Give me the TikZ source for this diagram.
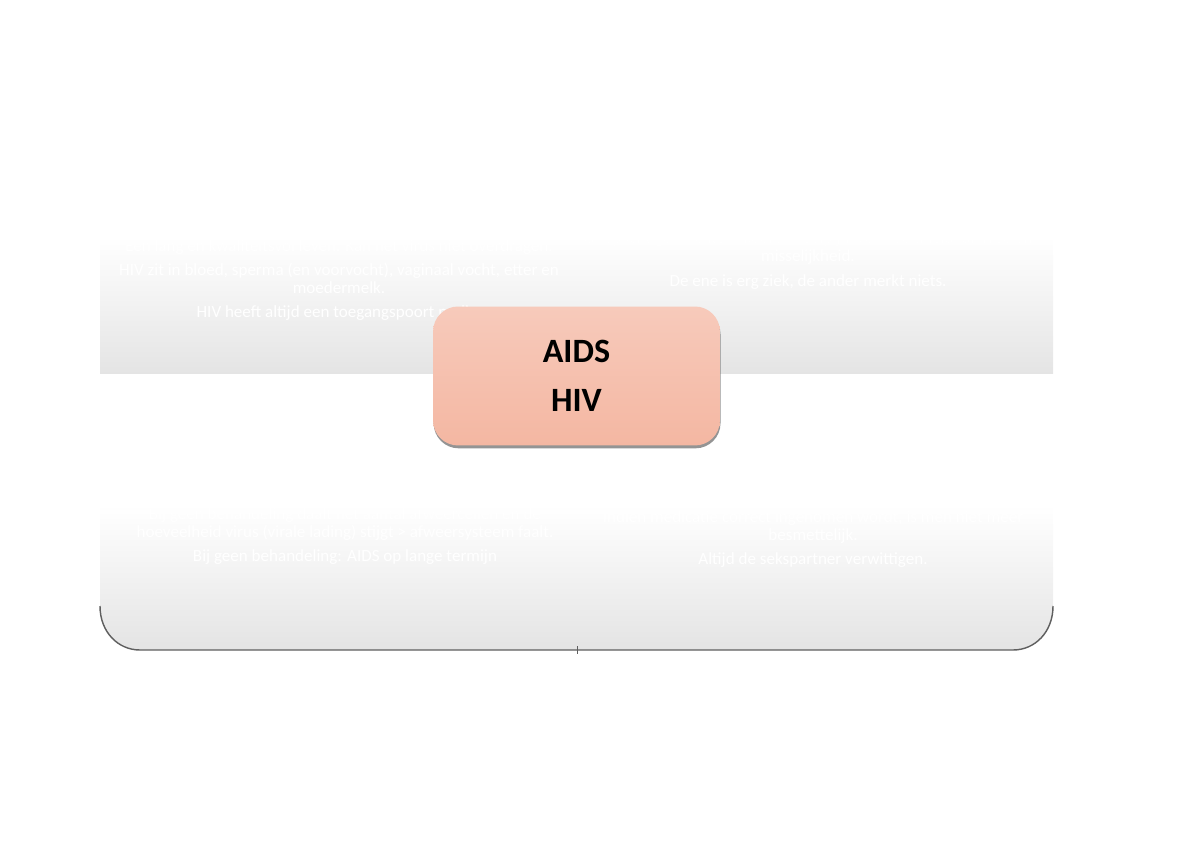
\documentclass[tikz,border=0pt]{standalone}
\usepackage{fontspec}
\setmainfont{Carlito}
\usetikzlibrary{positioning,shadows}
\definecolor{panelgrey}{RGB}{228,228,228}
\definecolor{hivtop}{RGB}{247,202,187}
\definecolor{hivbottom}{RGB}{244,183,162}
\definecolor{edgegrey}{RGB}{95,95,95}
\tikzset{
  panel/.style={top color=white, bottom color=panelgrey, draw=none},
  paneltext/.style={text=white, align=center, anchor=north, inner sep=1pt,
    font=\fontsize{12}{12.8}\selectfont},
  hivbox/.style={rounded corners=0.62cm, top color=hivtop, bottom color=hivbottom,
    minimum width=7.1cm, minimum height=3.44cm, align=center,
    font=\fontsize{24}{34.5}\selectfont\bfseries,
    drop shadow={shadow xshift=0.4pt, shadow yshift=-2pt, fill=black!60, opacity=.7}}
}
\begin{document}
\begin{tikzpicture}[x=0.02475cm, y=-0.02475cm]
  \useasboundingbox (0,0) rectangle (1200,848);

  % four panels
  \shade[panel] (100,237) rectangle (577,374);
  \shade[panel] (577,237) rectangle (1053,374);
  \shade[panel] (100,505) -- (577,505) -- (577,650) -- (140,650)
    .. controls (118,650) and (100,632) .. (100,610) -- cycle;
  \shade[panel] (577,505) -- (1053,505) -- (1053,610)
    .. controls (1053,632) and (1035,650) .. (1013,650) -- (577,650) -- cycle;
  \draw[edgegrey, line width=1pt] (100,606) .. controls (100,632) and (118,650) .. (140,650)
    -- (1013,650) .. controls (1035,650) and (1053,632) .. (1053,606);
  \draw[edgegrey, line width=0.6pt] (577,646) -- (577,654);

  % texts
  \node[paneltext] (spread) at (339,238) {Een lang en kwaliteitsvol leven. Kan het virus niet overdragen.\\[4pt]
    HIV zit in bloed, sperma (en voorvocht), vaginaal vocht, etter en\\ moedermelk.\\[4pt]
    HIV heeft altijd een toegangspoort nodig.};
  \node[paneltext] (signs) at (808,230) {Griepachtige klachten: koorts, keelpijn, vermoeidheid, diarree en\\ misselijkheid.\\[5pt]
    De ene is erg ziek, de ander merkt niets.};
  \node[paneltext] (course) at (345,506) {Bij geen behandeling daalt het aantal afweercellen en de\\
    hoeveelheid virus (virale lading) stijgt > afweersysteem faalt.\\[4pt]
    Bij geen behandeling: AIDS op lange termijn};
  \node[paneltext] (care) at (813,509) {Indien medicatie correct ingenomen wordt, is men niet meer\\ besmettelijk.\\[4pt]
    Altijd de sekspartner verwittigen.};

  % centre
  \node[hivbox] (hiv) at (576.5,376) {AIDS\\HIV};
\end{tikzpicture}
\end{document}
